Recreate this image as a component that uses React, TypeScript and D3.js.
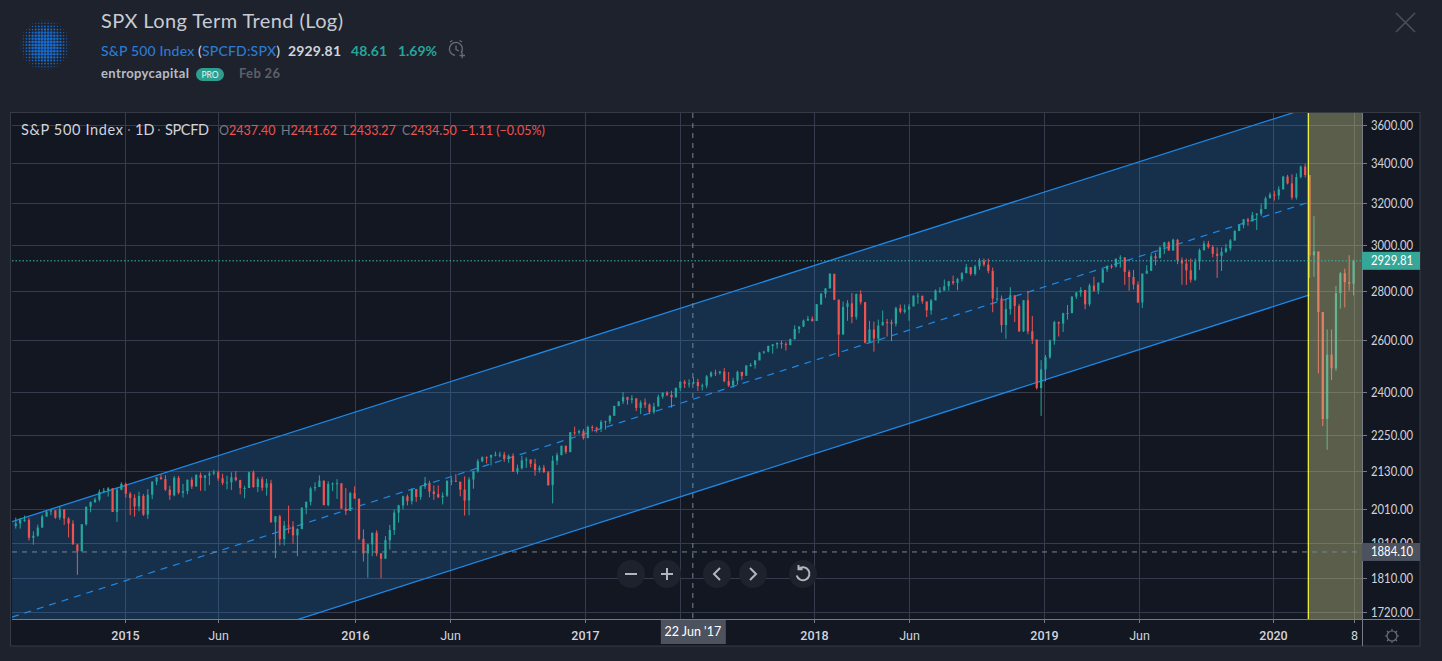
import * as d3 from "d3";

const firstWeek = "2014-07-11";

// weekly candles (open = previous close)
const closes = [
  1967, 1978, 1978, 1925, 1931, 1955, 1988, 2003, 2007, 1985, 2010, 1982, 1967, 1906, 1886, 1965, 2018, 2032, 2040, 2064, 2068, 2075, 2002, 2071, 2089,
  2058, 2045, 2019, 2051, 1994, 2055, 2096, 2110, 2104, 2071, 2053, 2108, 2061, 2066, 2102, 2081, 2117, 2108, 2116, 2122, 2126, 2107, 2092, 2094, 2110, 2101, 2076, 2076, 2126, 2079, 2104, 2077, 2091, 1971, 1989, 1921, 1961, 1958, 1932, 1951, 2015, 2033, 2075, 2079, 2099, 2023, 2089, 2090, 2091, 2012, 2005, 2060, 2043,
  1922, 1880, 1906, 1940, 1880, 1865, 1918, 1948, 2000, 2022, 2050, 2035, 2073, 2048, 2081, 2092, 2065, 2057, 2047, 2052, 2099, 2099, 2096, 2071, 2037, 2103, 2130, 2162, 2175, 2174, 2183, 2184, 2184, 2169, 2180, 2128, 2139, 2165, 2168, 2154, 2133, 2141, 2126, 2085, 2164, 2182, 2213, 2192, 2259, 2258, 2263, 2239,
  2277, 2275, 2271, 2295, 2297, 2316, 2351, 2367, 2383, 2373, 2378, 2344, 2363, 2356, 2329, 2349, 2384, 2399, 2391, 2382, 2416, 2439, 2432, 2433, 2438, 2423, 2425, 2459, 2473, 2472, 2477, 2441, 2425, 2443, 2476, 2461, 2500, 2502, 2519, 2549, 2553, 2575, 2581, 2587, 2582, 2578, 2602, 2642, 2652, 2676, 2683, 2674,
  2743, 2787, 2810, 2873, 2762, 2620, 2732, 2747, 2691, 2786, 2752, 2588, 2640, 2604, 2656, 2670, 2669, 2663, 2727, 2712, 2721, 2734, 2779, 2779, 2755, 2718, 2759, 2801, 2801, 2819, 2840, 2833, 2850, 2875, 2902, 2872, 2905, 2930, 2913, 2885, 2767, 2767, 2658, 2723, 2781, 2736, 2633, 2760, 2633, 2600, 2416, 2485,
  2531, 2596, 2670, 2664, 2706, 2707, 2775, 2792, 2803, 2743, 2822, 2800, 2834, 2892, 2907, 2905, 2939, 2945, 2881, 2859, 2826, 2751, 2873, 2886, 2950, 2941, 2990, 3013, 2976, 3025, 2932, 2918, 2888, 2847, 2926, 2978, 3007, 2992, 2961, 2952, 2970, 2986, 3022, 3066, 3093, 3120, 3110, 3140, 3146, 3169, 3221, 3240,
  3235, 3265, 3329, 3295, 3225, 3327, 3380, 3337, 2954, 2972, 2711, 2305, 2541, 2489, 2790, 2875, 2837, 2830, 2929,
];
const highs = [
  1985, 1984, 1991, 1984, 1944, 1964, 1994, 2005, 2011, 2007, 2019, 2009, 1986, 1977, 1906, 1965, 2018, 2034, 2046, 2071, 2076, 2079, 2075, 2078, 2094,
  2093, 2064, 2056, 2064, 2057, 2072, 2097, 2110, 2119, 2117, 2083, 2114, 2114, 2089, 2103, 2110, 2120, 2125, 2117, 2129, 2134, 2132, 2121, 2115, 2126, 2130, 2102, 2083, 2128, 2132, 2110, 2112, 2105, 2102, 1989, 1993, 1975, 2021, 1974, 1953, 2016, 2034, 2080, 2094, 2116, 2100, 2097, 2094, 2104, 2090, 2076, 2064, 2081,
  2038, 1950, 1908, 1940, 1947, 1881, 1930, 1963, 2009, 2024, 2052, 2056, 2075, 2072, 2083, 2111, 2099, 2084, 2084, 2062, 2100, 2109, 2120, 2096, 2113, 2110, 2131, 2169, 2178, 2178, 2183, 2194, 2193, 2193, 2184, 2188, 2151, 2180, 2175, 2165, 2170, 2148, 2150, 2130, 2180, 2190, 2214, 2214, 2260, 2278, 2268, 2270,
  2282, 2283, 2278, 2301, 2299, 2319, 2352, 2368, 2401, 2384, 2390, 2379, 2371, 2378, 2360, 2362, 2392, 2400, 2404, 2406, 2418, 2441, 2446, 2448, 2456, 2450, 2432, 2464, 2478, 2484, 2480, 2490, 2475, 2454, 2480, 2470, 2500, 2509, 2520, 2552, 2556, 2576, 2582, 2589, 2597, 2590, 2604, 2657, 2652, 2680, 2695, 2693,
  2744, 2790, 2810, 2875, 2870, 2763, 2755, 2760, 2790, 2788, 2802, 2750, 2675, 2672, 2680, 2717, 2683, 2680, 2733, 2742, 2742, 2745, 2780, 2790, 2775, 2750, 2765, 2805, 2815, 2848, 2842, 2865, 2855, 2880, 2916, 2900, 2912, 2941, 2940, 2940, 2900, 2815, 2780, 2765, 2815, 2775, 2745, 2760, 2800, 2695, 2600, 2520,
  2540, 2600, 2675, 2672, 2708, 2740, 2776, 2795, 2815, 2803, 2830, 2860, 2836, 2894, 2910, 2915, 2940, 2955, 2945, 2890, 2890, 2840, 2875, 2910, 2963, 2965, 2995, 3015, 3018, 3030, 3028, 2945, 2940, 2940, 2940, 2985, 3020, 3020, 3000, 2990, 2990, 3005, 3028, 3068, 3097, 3122, 3127, 3155, 3150, 3195, 3230, 3250,
  3258, 3280, 3333, 3338, 3340, 3345, 3385, 3394, 3260, 3135, 2950, 2710, 2640, 2640, 2820, 2880, 2895, 2955, 2935,
];
const lows = [
  1952, 1952, 1972, 1917, 1905, 1928, 1955, 1988, 1992, 1981, 1978, 1963, 1926, 1905, 1820, 1886, 1961, 2001, 2030, 2034, 2063, 2049, 2002, 1972, 2069,
  2046, 1992, 1988, 2004, 1990, 1981, 2041, 2085, 2103, 2067, 2039, 2050, 2056, 2046, 2056, 2073, 2080, 2067, 2067, 2085, 2117, 2099, 2085, 2072, 2070, 2097, 2056, 2044, 2080, 2077, 2063, 2067, 2052, 1970, 1867, 1903, 1903, 1938, 1908, 1872, 1950, 1995, 2022, 2066, 2080, 2022, 2019, 2066, 2042, 2012, 1993, 2005, 2043,
  1918, 1857, 1812, 1872, 1872, 1810, 1865, 1891, 1933, 1970, 2010, 2022, 2025, 2033, 2039, 2073, 2047, 2039, 2045, 2025, 2048, 2085, 2095, 2050, 1991, 1992, 2074, 2125, 2159, 2155, 2148, 2178, 2175, 2160, 2157, 2128, 2120, 2135, 2140, 2142, 2115, 2125, 2125, 2083, 2028, 2150, 2182, 2186, 2192, 2250, 2252, 2234,
  2245, 2262, 2258, 2260, 2268, 2288, 2318, 2350, 2358, 2356, 2360, 2333, 2322, 2344, 2322, 2323, 2362, 2377, 2386, 2345, 2382, 2405, 2416, 2418, 2430, 2405, 2407, 2415, 2455, 2460, 2465, 2437, 2420, 2417, 2428, 2446, 2470, 2495, 2488, 2520, 2545, 2550, 2545, 2565, 2565, 2557, 2580, 2600, 2625, 2650, 2675, 2672,
  2683, 2740, 2770, 2810, 2760, 2533, 2620, 2675, 2665, 2680, 2742, 2585, 2594, 2553, 2585, 2660, 2612, 2594, 2652, 2705, 2705, 2675, 2735, 2745, 2745, 2690, 2700, 2770, 2790, 2800, 2800, 2825, 2802, 2840, 2877, 2865, 2865, 2890, 2905, 2875, 2710, 2755, 2628, 2603, 2700, 2670, 2630, 2630, 2621, 2583, 2410, 2316,
  2440, 2525, 2580, 2612, 2630, 2680, 2705, 2765, 2775, 2722, 2735, 2795, 2785, 2850, 2880, 2895, 2900, 2900, 2825, 2800, 2805, 2748, 2728, 2880, 2885, 2910, 2955, 2960, 2975, 2975, 2915, 2825, 2825, 2835, 2842, 2890, 2975, 2985, 2945, 2855, 2885, 2965, 2975, 3020, 3065, 3078, 3090, 3115, 3070, 3135, 3180, 3225,
  3210, 3215, 3265, 3290, 3215, 3215, 3320, 3325, 2855, 2860, 2470, 2280, 2200, 2445, 2480, 2725, 2730, 2800, 2780,
];

const priceTicks = [3600, 3400, 3200, 3000, 2800, 2600, 2400, 2250, 2130, 2010, 1910, 1810, 1720];
// the Jun 2017 label sits under the crosshair flag in the picture, so it has no text
const timeTicks: [string, string][] = [
  ["2015-01-01", "2015"], ["2015-05-29", "Jun"], ["2016-01-01", "2016"], ["2016-06-01", "Jun"], ["2017-01-01", "2017"], ["2017-06-01", ""],
  ["2018-01-01", "2018"], ["2018-06-01", "Jun"], ["2019-01-01", "2019"], ["2019-06-01", "Jun"], ["2020-01-01", "2020"], ["2020-05-08", "8"],
];

const channelDates = ["2014-07-05", "2020-02-28"];
const channelUpper = [1973, 3697];
const channelMid = [1707, 3203];
const channelLower = [1480, 2782];

const lastPrice = 2929.81;
const crossPrice = 1884.1;
const crossDate = "2017-06-22";
const zoneStart = "2020-02-26";

const W = 1442;
const H = 661;
const plot = { left: 12, right: 1363, top: 113, bottom: 619, paneRight: 1420, paneBottom: 646 };
const FONT = "Lato, 'Open Sans', sans-serif";
const UP = "#26a69a";
const DOWN = "#ef5350";
const GRID = "#363c4e";
const TEXT = "#d1d4dc";
const BLUE = "#1e88e5";
const CROSS = "#758696";

const day = (s: string) => new Date(s + "T00:00:00Z");

const x = d3.scaleUtc().domain([day("2014-07-05"), day("2020-05-23")]).range([plot.left, plot.right]);
const y = d3.scaleLog().domain([1702, 3666]).range([plot.bottom, plot.top]);

const candles = closes.map((close, i) => ({
  date: d3.utcDay.offset(day(firstWeek), i * 7),
  open: i === 0 ? 1960 : closes[i - 1],
  high: highs[i],
  low: lows[i],
  close,
}));

const channel = channelDates.map((d, i) => ({ date: day(d), up: channelUpper[i], mid: channelMid[i], low: channelLower[i] }));
type ChannelRow = (typeof channel)[number];
const channelArea = d3.area<ChannelRow>().x((d) => x(d.date)).y0((d) => y(d.low)).y1((d) => y(d.up));
const channelLine = (key: "up" | "mid" | "low") => d3.line<ChannelRow>().x((d) => x(d.date)).y((d) => y(d[key]))(channel) ?? "";

// halftone dots of the avatar
const logoDots = d3.range(-8, 9).flatMap((i) =>
  d3.range(-8, 9).map((j) => {
    const r = Math.hypot(i, j) / 8;
    return { i, j, r };
  })
).filter((d) => d.r < 1.02);

const NavButton = ({ cx, children }: { cx: number; children: React.ReactNode }) => (
  <g transform={`translate(${cx},574)`}>
    <circle r={14} fill="#1e222d" />
    <g fill="none" stroke="#b2b5be" strokeWidth={2}>{children}</g>
  </g>
);

const App = () => {
  const lastY = y(lastPrice);
  const crossY = y(crossPrice);
  const crossX = x(day(crossDate));
  const zoneX = x(day(zoneStart));
  return (
    <svg width={W} height={H} viewBox={`0 0 ${W} ${H}`} style={{ position: "absolute", left: 0, top: 0, display: "block", background: "#1e222d" }} fontFamily={FONT}>
      <defs>
        <clipPath id="plot-clip">
          <rect x={plot.left} y={plot.top} width={plot.right - plot.left} height={plot.bottom - plot.top} />
        </clipPath>
      </defs>

      {/* header */}
      <g transform="translate(45,45)">
        {logoDots.map((d) => (
          <circle key={`${d.i}-${d.j}`} cx={d.i * 3.1} cy={d.j * 3.1} r={1.6 * (1.05 - d.r * d.r * 0.8)} fill="#1769c9" />
        ))}
      </g>
      <text x={101} y={28} fontSize={20} fill="#c8cbd3" textLength={242}>SPX Long Term Trend (Log)</text>
      <text x={101} y={56} fontSize={14} fontWeight={500} textLength={179}>
        <tspan fill="#2a7bd3">S&amp;P 500 Index</tspan>
        <tspan fill={TEXT}> (</tspan>
        <tspan fill="#2a7bd3">SPCFD:SPX</tspan>
        <tspan fill={TEXT}>)</tspan>
      </text>
      <text x={288} y={56} fontSize={14} fontWeight={700} fill={TEXT} textLength={53}>2929.81</text>
      <text x={351} y={56} fontSize={14} fontWeight={700} fill={UP} textLength={36}>48.61</text>
      <text x={398} y={56} fontSize={14} fontWeight={700} fill={UP} textLength={39}>1.69%</text>
      <g transform="translate(456,49)" fill="none" stroke="#6a6d78" strokeWidth={1.3}>
        <path d="M5 4 A6.5 6.5 0 1 0 -1 6.4" />
        <path d="M0 -3.5V0.5L3 2" />
        <path d="M-6 -7L-3.5 -8.5M6 -7L3.5 -8.5" />
        <path d="M3.5 6.5H9M6.2 3.8V9.2" />
      </g>
      <text x={101} y={78} fontSize={13} fontWeight={700} fill="#b8bbc4" textLength={88}>entropycapital</text>
      <rect x={196} y={68} width={28} height={13} rx={6.5} fill="#2e9e8f" />
      <text x={210} y={78} fontSize={8.5} fill="#e6f5f2" textAnchor="middle">PRO</text>
      <text x={239} y={78} fontSize={13} fontWeight={700} fill="#5d606b" textLength={41}>Feb 26</text>
      <path d="M1396 13L1415 32M1415 13L1396 32" stroke="#4a4e5a" strokeWidth={1.6} fill="none" />

      {/* panes */}
      <rect x={10.5} y={112.5} width={plot.paneRight - 10.5} height={plot.paneBottom - 112.5} fill="#131722" stroke="#363a45" />

      {/* grid */}
      <g stroke={GRID} strokeWidth={1}>
        {priceTicks.map((p) => (
          <line key={p} x1={plot.left} x2={plot.right} y1={Math.round(y(p)) + 0.5} y2={Math.round(y(p)) + 0.5} />
        ))}
        {timeTicks.map(([d]) => (
          <line key={d} x1={Math.round(x(day(d))) + 0.5} x2={Math.round(x(day(d))) + 0.5} y1={plot.top} y2={plot.bottom} />
        ))}
      </g>

      <g clipPath="url(#plot-clip)">
        {/* regression channel */}
        <path d={channelArea(channel) ?? ""} fill="#2196f3" fillOpacity={0.2} />
        <path d={channelLine("up")} fill="none" stroke={BLUE} strokeWidth={1.3} />
        <path d={channelLine("low")} fill="none" stroke={BLUE} strokeWidth={1.3} />
        <path d={channelLine("mid")} fill="none" stroke={BLUE} strokeWidth={1.2} strokeDasharray="7 6" />

        {/* candles */}
        {candles.map((c) => {
          const cx = x(c.date);
          const color = c.close >= c.open ? UP : DOWN;
          const yTop = y(Math.max(c.open, c.close));
          const yBottom = y(Math.min(c.open, c.close));
          return (
            <g key={+c.date} fill={color} stroke={color}>
              <line x1={cx} x2={cx} y1={y(c.high)} y2={y(c.low)} strokeWidth={1} />
              <rect x={cx - 1.1} y={yTop} width={2.2} height={Math.max(yBottom - yTop, 1)} stroke="none" />
            </g>
          );
        })}

        {/* highlighted period */}
        <rect x={zoneX} y={plot.top} width={plot.right - zoneX} height={plot.bottom - plot.top} fill="#c9cb86" fillOpacity={0.4} />
        <line x1={zoneX} x2={zoneX} y1={plot.top} y2={plot.bottom} stroke="#ffff3b" strokeWidth={1.2} />

        {/* last price and crosshair */}
        <line x1={plot.left} x2={plot.right} y1={lastY} y2={lastY} stroke="#3db8ac" strokeWidth={1} strokeDasharray="1.5 2" />
        <line x1={plot.left} x2={plot.right} y1={crossY} y2={crossY} stroke={CROSS} strokeWidth={1} strokeDasharray="5 5" />
        <line x1={crossX} x2={crossX} y1={plot.top} y2={plot.bottom} stroke={CROSS} strokeWidth={1} strokeDasharray="5 5" />
      </g>

      {/* legend */}
      <text x={21} y={135} fontSize={14.5} fill={TEXT} textLength={102}>S&amp;P 500 Index</text>
      <circle cx={129} cy={130} r={1} fill="#787b86" />
      <text x={135} y={135} fontSize={14.5} fill={TEXT}>1D</text>
      <circle cx={159} cy={130} r={1} fill="#787b86" />
      <text x={165} y={135} fontSize={14.5} fill={TEXT} textLength={44}>SPCFD</text>
      {[["O", "2437.40", 219], ["H", "2441.62", 281], ["L", "2433.27", 343], ["C", "2434.50", 402]].map(([k, v, px]) => (
        <text key={k as string} x={px as number} y={135} fontSize={12.5}>
          <tspan fill="#787b86">{k}</tspan>
          <tspan fill={DOWN}>{v}</tspan>
        </text>
      ))}
      <text x={461} y={135} fontSize={12.5} fill={DOWN}>−1.11 (−0.05%)</text>

      {/* navigation buttons */}
      <NavButton cx={631}><path d="M-6 0H6" /></NavButton>
      <NavButton cx={667}><path d="M-6 0H6M0 -6V6" /></NavButton>
      <NavButton cx={717}><path d="M3 -6L-3 0L3 6" /></NavButton>
      <NavButton cx={753}><path d="M-3 -6L3 0L-3 6" /></NavButton>
      <NavButton cx={803}><path d="M-4.5 -5A6.5 6.5 0 1 1 -6.3 1.5M-4.5 -9V-4.8H-0.4" /></NavButton>

      {/* axis lines */}
      <line x1={plot.left} x2={plot.paneRight} y1={619.5} y2={619.5} stroke="#787b86" />
      <line x1={plot.right - 0.5} x2={plot.right - 0.5} y1={plot.top} y2={plot.paneBottom} stroke="#787b86" />

      {/* price axis */}
      {priceTicks.map((p) => (
        <g key={p} transform={`translate(${plot.right},${Math.round(y(p)) + 0.5})`}>
          <line x1={0} x2={4} stroke="#787b86" />
          <text x={8} y={4.5} fontSize={12.5} fill={TEXT} textLength={42} lengthAdjust="spacingAndGlyphs">{d3.format(".2f")(p)}</text>
        </g>
      ))}

      {/* time axis */}
      {timeTicks.map(([d, label]) => (
        <g key={d} transform={`translate(${Math.round(x(day(d))) + 0.5},619)`}>
          <line y1={0} y2={4} stroke="#787b86" />
          {label && (
            <text y={21} fontSize={12.5} fill={TEXT} textAnchor="middle" fontFamily="Roboto" fontWeight={/^\d{4}$/.test(label) ? 500 : 400}>{label}</text>
          )}
        </g>
      ))}

      {/* axis flags */}
      <rect x={plot.right - 1} y={lastY - 9} width={plot.paneRight - plot.right + 1} height={18} fill="#35a698" />
      <text x={plot.right + 8} y={lastY + 4.5} fontSize={12.5} fill="#fff" textLength={42} lengthAdjust="spacingAndGlyphs">{d3.format(".2f")(lastPrice)}</text>
      <rect x={plot.right - 1} y={crossY - 9} width={plot.paneRight - plot.right + 1} height={18} fill="#4c525e" />
      <text x={plot.right + 8} y={crossY + 4.5} fontSize={12.5} fill="#fff" textLength={42} lengthAdjust="spacingAndGlyphs">{d3.format(".2f")(crossPrice)}</text>
      <rect x={crossX - 32} y={620} width={65} height={24} fill="#4c525e" />
      <text x={crossX} y={636} fontSize={12.5} fill="#fff" textAnchor="middle">22 Jun '17</text>

      {/* settings gear */}
      <g transform="translate(1392,636)" fill="none" stroke="#6a6d78" strokeWidth={1.2}>
        <circle r={5} />
        <path d="M0 -5V-7M0 5V7M-5 0H-7M5 0H7M-3.5 -3.5L-5 -5M3.5 -3.5L5 -5M-3.5 3.5L-5 5M3.5 3.5L5 5" />
      </g>
    </svg>
  );
};

export default App;
